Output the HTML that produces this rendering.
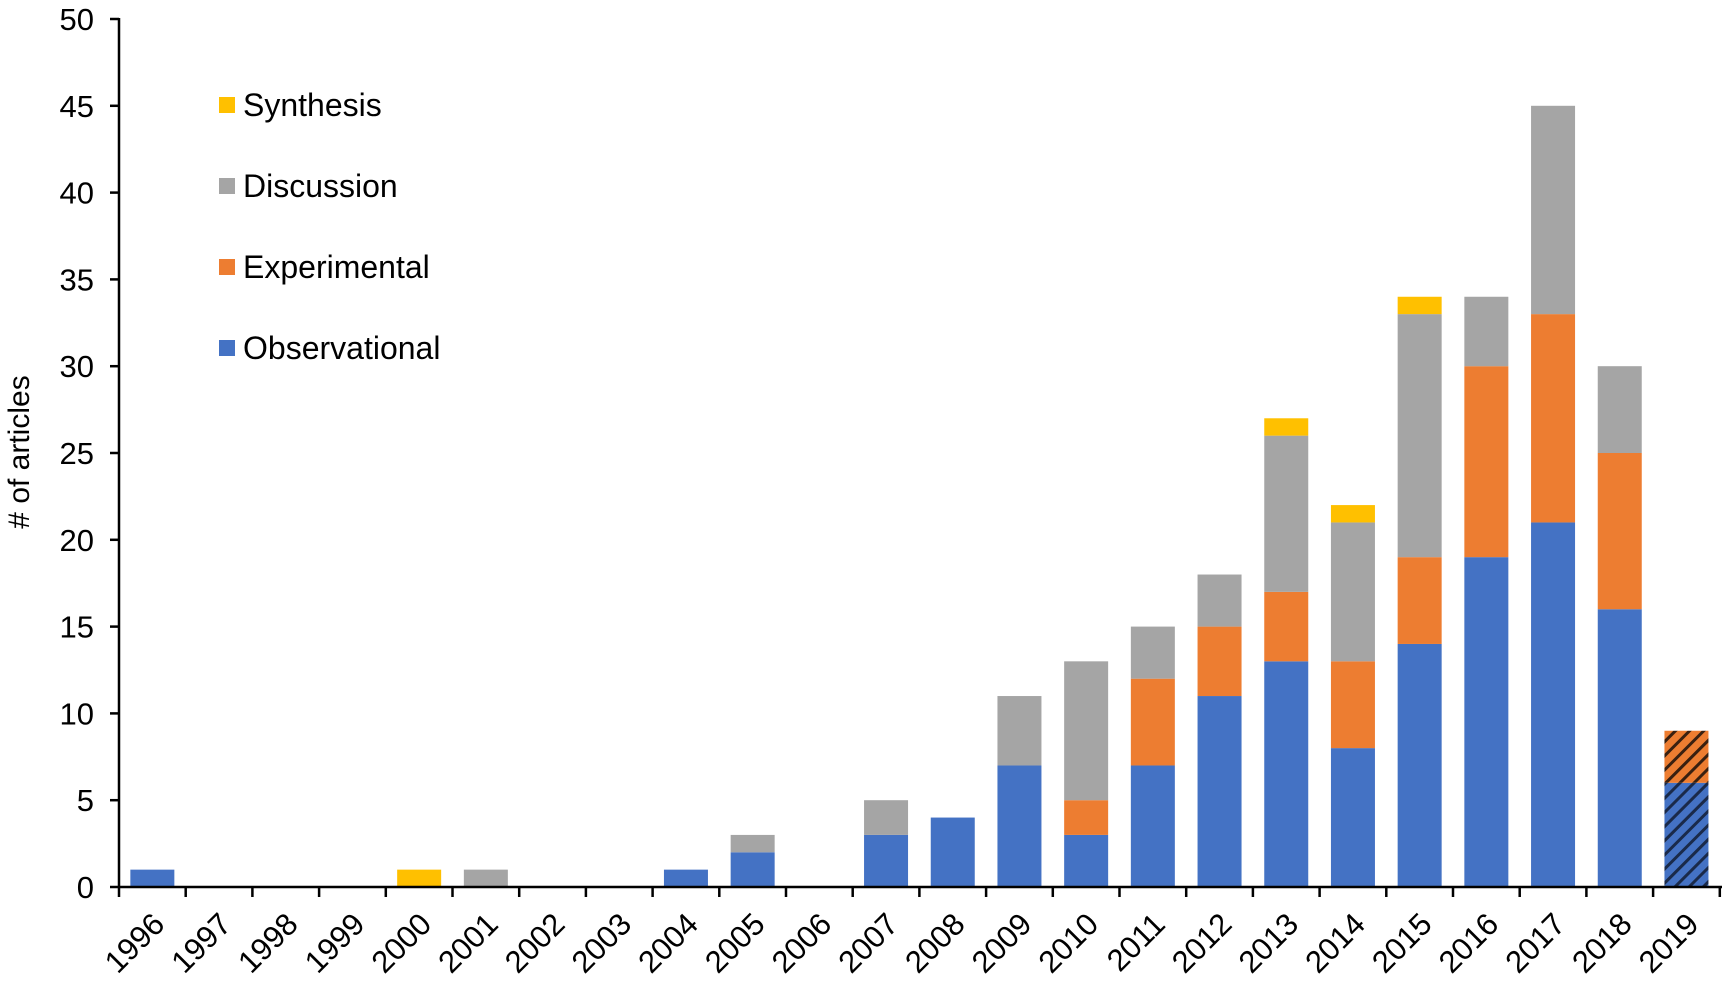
<!DOCTYPE html><html><head><style>body{margin:0;background:#fff}</style></head><body>
<svg width="1725" height="982" viewBox="0 0 1725 982" xmlns="http://www.w3.org/2000/svg" font-family="Liberation Sans, Arial, sans-serif">
<defs>
<pattern id="hb" patternUnits="userSpaceOnUse" width="10" height="10" patternTransform="rotate(45)"><rect width="10" height="10" fill="#4472C4"/><rect width="3" height="10" fill="#1a2a4a"/></pattern>
<pattern id="ho" patternUnits="userSpaceOnUse" width="10" height="10" patternTransform="rotate(45)"><rect width="10" height="10" fill="#ED7D31"/><rect width="3" height="10" fill="#3a2010"/></pattern>
</defs>
<g id="bars"></g>
<g id="ax" stroke="#000" stroke-width="2.5"></g>
<g id="lab" fill="#000"></g>
<text transform="translate(29,452) rotate(-90)" text-anchor="middle" font-size="30">#  of articles</text>
<g font-size="32">
<rect x="219" y="97" width="16" height="16" fill="#FFC000"/><text x="243" y="116">Synthesis</text>
<rect x="219" y="178" width="16" height="16" fill="#A5A5A5"/><text x="243" y="197">Discussion</text>
<rect x="219" y="259" width="16" height="16" fill="#ED7D31"/><text x="243" y="278">Experimental</text>
<rect x="219" y="340" width="16" height="16" fill="#4472C4"/><text x="243" y="359">Observational</text>
</g>
</svg>
<script>
const NS="http://www.w3.org/2000/svg";
const d=[[1,0,0,0],[0,0,0,0],[0,0,0,0],[0,0,0,0],[0,0,0,1],[0,0,1,0],[0,0,0,0],[0,0,0,0],[1,0,0,0],[2,0,1,0],[0,0,0,0],[3,0,2,0],[4,0,0,0],[7,0,4,0],[3,2,8,0],[7,5,3,0],[11,4,3,0],[13,4,9,1],[8,5,8,1],[14,5,14,1],[19,11,4,0],[21,12,12,0],[16,9,5,0],[6,3,0,0]];
const col=["#4472C4","#ED7D31","#A5A5A5","#FFC000"];
const x0=119,base=887,u=17.36,sp=66.7;
const bars=document.getElementById("bars"),ax=document.getElementById("ax"),lab=document.getElementById("lab");
function el(p,t,a){const e=document.createElementNS(NS,t);for(const k in a)e.setAttribute(k,a[k]);p.appendChild(e);return e;}
d.forEach((v,i)=>{const cx=x0+sp*(i+0.5);let y=base;v.forEach((n,j)=>{if(!n)return;const h=n*u;y-=h;let f=col[j];if(i==23)f=j==0?"url(#hb)":"url(#ho)";el(bars,"rect",{x:cx-22,y:y,width:44,height:h,fill:f});});
const t=el(lab,"text",{x:cx+14,y:926,"font-size":31,"text-anchor":"end",transform:`rotate(-45 ${cx+14} 926)`});t.textContent=1996+i;});
el(ax,"line",{x1:x0,y1:18,x2:x0,y2:base});
el(ax,"line",{x1:x0,y1:base,x2:1722,y2:base});
for(let k=0;k<=10;k++){const y=base-k*5*u;el(ax,"line",{x1:x0-9,y1:y,x2:x0,y2:y});const t=el(lab,"text",{x:94,y:y+11,"font-size":31,"text-anchor":"end"});t.textContent=k*5;}
for(let i=0;i<=24;i++){const x=x0+sp*i;el(ax,"line",{x1:x,y1:base,x2:x,y2:base+10});}
</script>
</body></html>
